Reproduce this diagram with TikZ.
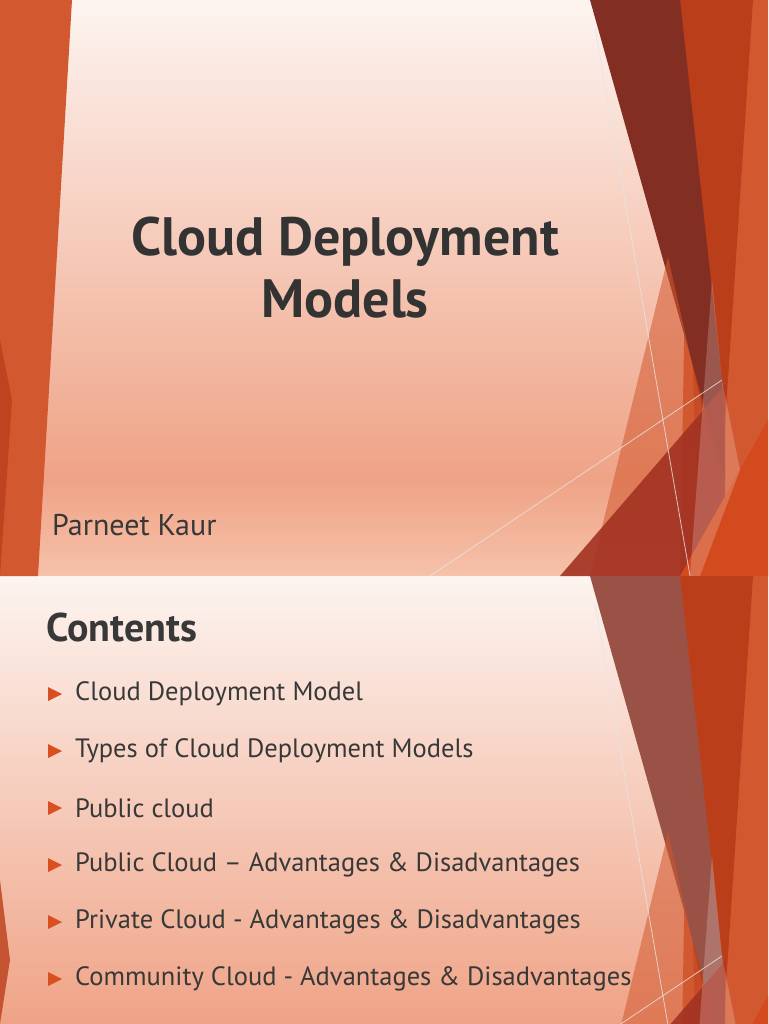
\documentclass[tikz,border=0pt]{standalone}
\usepackage{fontspec}
\setmainfont{PT Sans}
\begin{document}
\begin{tikzpicture}[x=1pt,y=-1pt,
  txt/.style={text=black!78,anchor=west,inner sep=0pt},
  blt/.style={fill=bulletc}]
\definecolor{bgtop}{HTML}{FDF4F0}
\definecolor{bgmid}{HTML}{EFA386}
\definecolor{bgbot}{HTML}{F6C2AA}
\definecolor{brown1}{HTML}{832E22}
\definecolor{brown2}{HTML}{9A5246}
\definecolor{or1}{HTML}{BA3E1A}
\definecolor{or2}{HTML}{D2582F}
\definecolor{or3}{HTML}{D24A1E}
\definecolor{red1}{HTML}{A33222}
\definecolor{bulletc}{HTML}{D8501F}
\useasboundingbox (0,0) rectangle (768,1024);
% slide 1 background
\shade[top color=bgtop,bottom color=bgmid] (0,0) rectangle (768,480);
\shade[top color=bgmid,bottom color=bgbot] (0,480) rectangle (768,576);
% slide 2 background
\shade[top color=bgtop,bottom color=bgmid] (0,576) rectangle (768,1024);
% left shapes
\fill[or2] (0,0) -- (72,0) -- (38,576) -- (0,576) -- cycle;
\fill[or1,opacity=0.8] (0,340) -- (12,400) -- (0,576) -- cycle;
\fill[or1,opacity=0.8] (0,880) -- (10,960) -- (0,1024) -- cycle;
% right shapes, slide 1 and 2
\foreach \dy/\bc in {0/brown1,576/brown2}{
\begin{scope}
\clip (0,\dy) rectangle (768,\dy+576);
\fill[or2] (690,\dy) -- (768,\dy) -- (768,\dy+576) -- (680,\dy+576) -- cycle;
\fill[or1] (680,\dy) -- (753,\dy) -- (715,\dy+576) -- (700,\dy+576) -- cycle;
\fill[\bc] (590,\dy) -- (680,\dy) -- (722,\dy+380) -- (725,\dy+480) -- cycle;
\fill[or2,opacity=0.55] (590,\dy+576) -- (668,\dy+257) -- (740,\dy+576) -- cycle;
\fill[red1,opacity=0.9] (560,\dy+576) -- (725,\dy+385) -- (725,\dy+576) -- cycle;
\fill[or3] (680,\dy+576) -- (768,\dy+420) -- (768,\dy+576) -- cycle;
\fill[white,opacity=0.2] (712,\dy+280) -- (722,\dy+380) -- (740,\dy+470) -- (700,\dy+576) -- (690,\dy+576) -- cycle;
\draw[white!80!gray,opacity=0.8,line width=0.8] (595,\dy+28) -- (690,\dy+576);
\draw[white!80!gray,opacity=0.8,line width=0.8] (430,\dy+576) -- (722,\dy+380);
\end{scope}}
% texts slide 1
\node[anchor=center,align=center,text=black!80,font=\bfseries\fontsize{54}{62}\selectfont] (title) at (345,268) {Cloud Deployment\\Models};
\node[txt,font=\fontsize{30}{34}\selectfont] (author) at (52,525) {Parneet Kaur};
% slide 2
\node[txt,font=\bfseries\fontsize{40}{44}\selectfont] (cont) at (46,627) {Contents};
\foreach \y/\t [count=\i] in {694/Cloud Deployment Model,751/Types of Cloud Deployment Models,808/Public cloud,865/Public Cloud – Advantages \& Disadvantages,922/Private Cloud - Advantages \& Disadvantages,979/Community Cloud - Advantages \& Disadvantages}{
\fill[bulletc] (48,\y-7) -- (62,\y) -- (48,\y+7) -- cycle;
\node[txt,font=\fontsize{26.5}{30}\selectfont] (b\i) at (75,\y) {\t};
}
\end{tikzpicture}
\end{document}
